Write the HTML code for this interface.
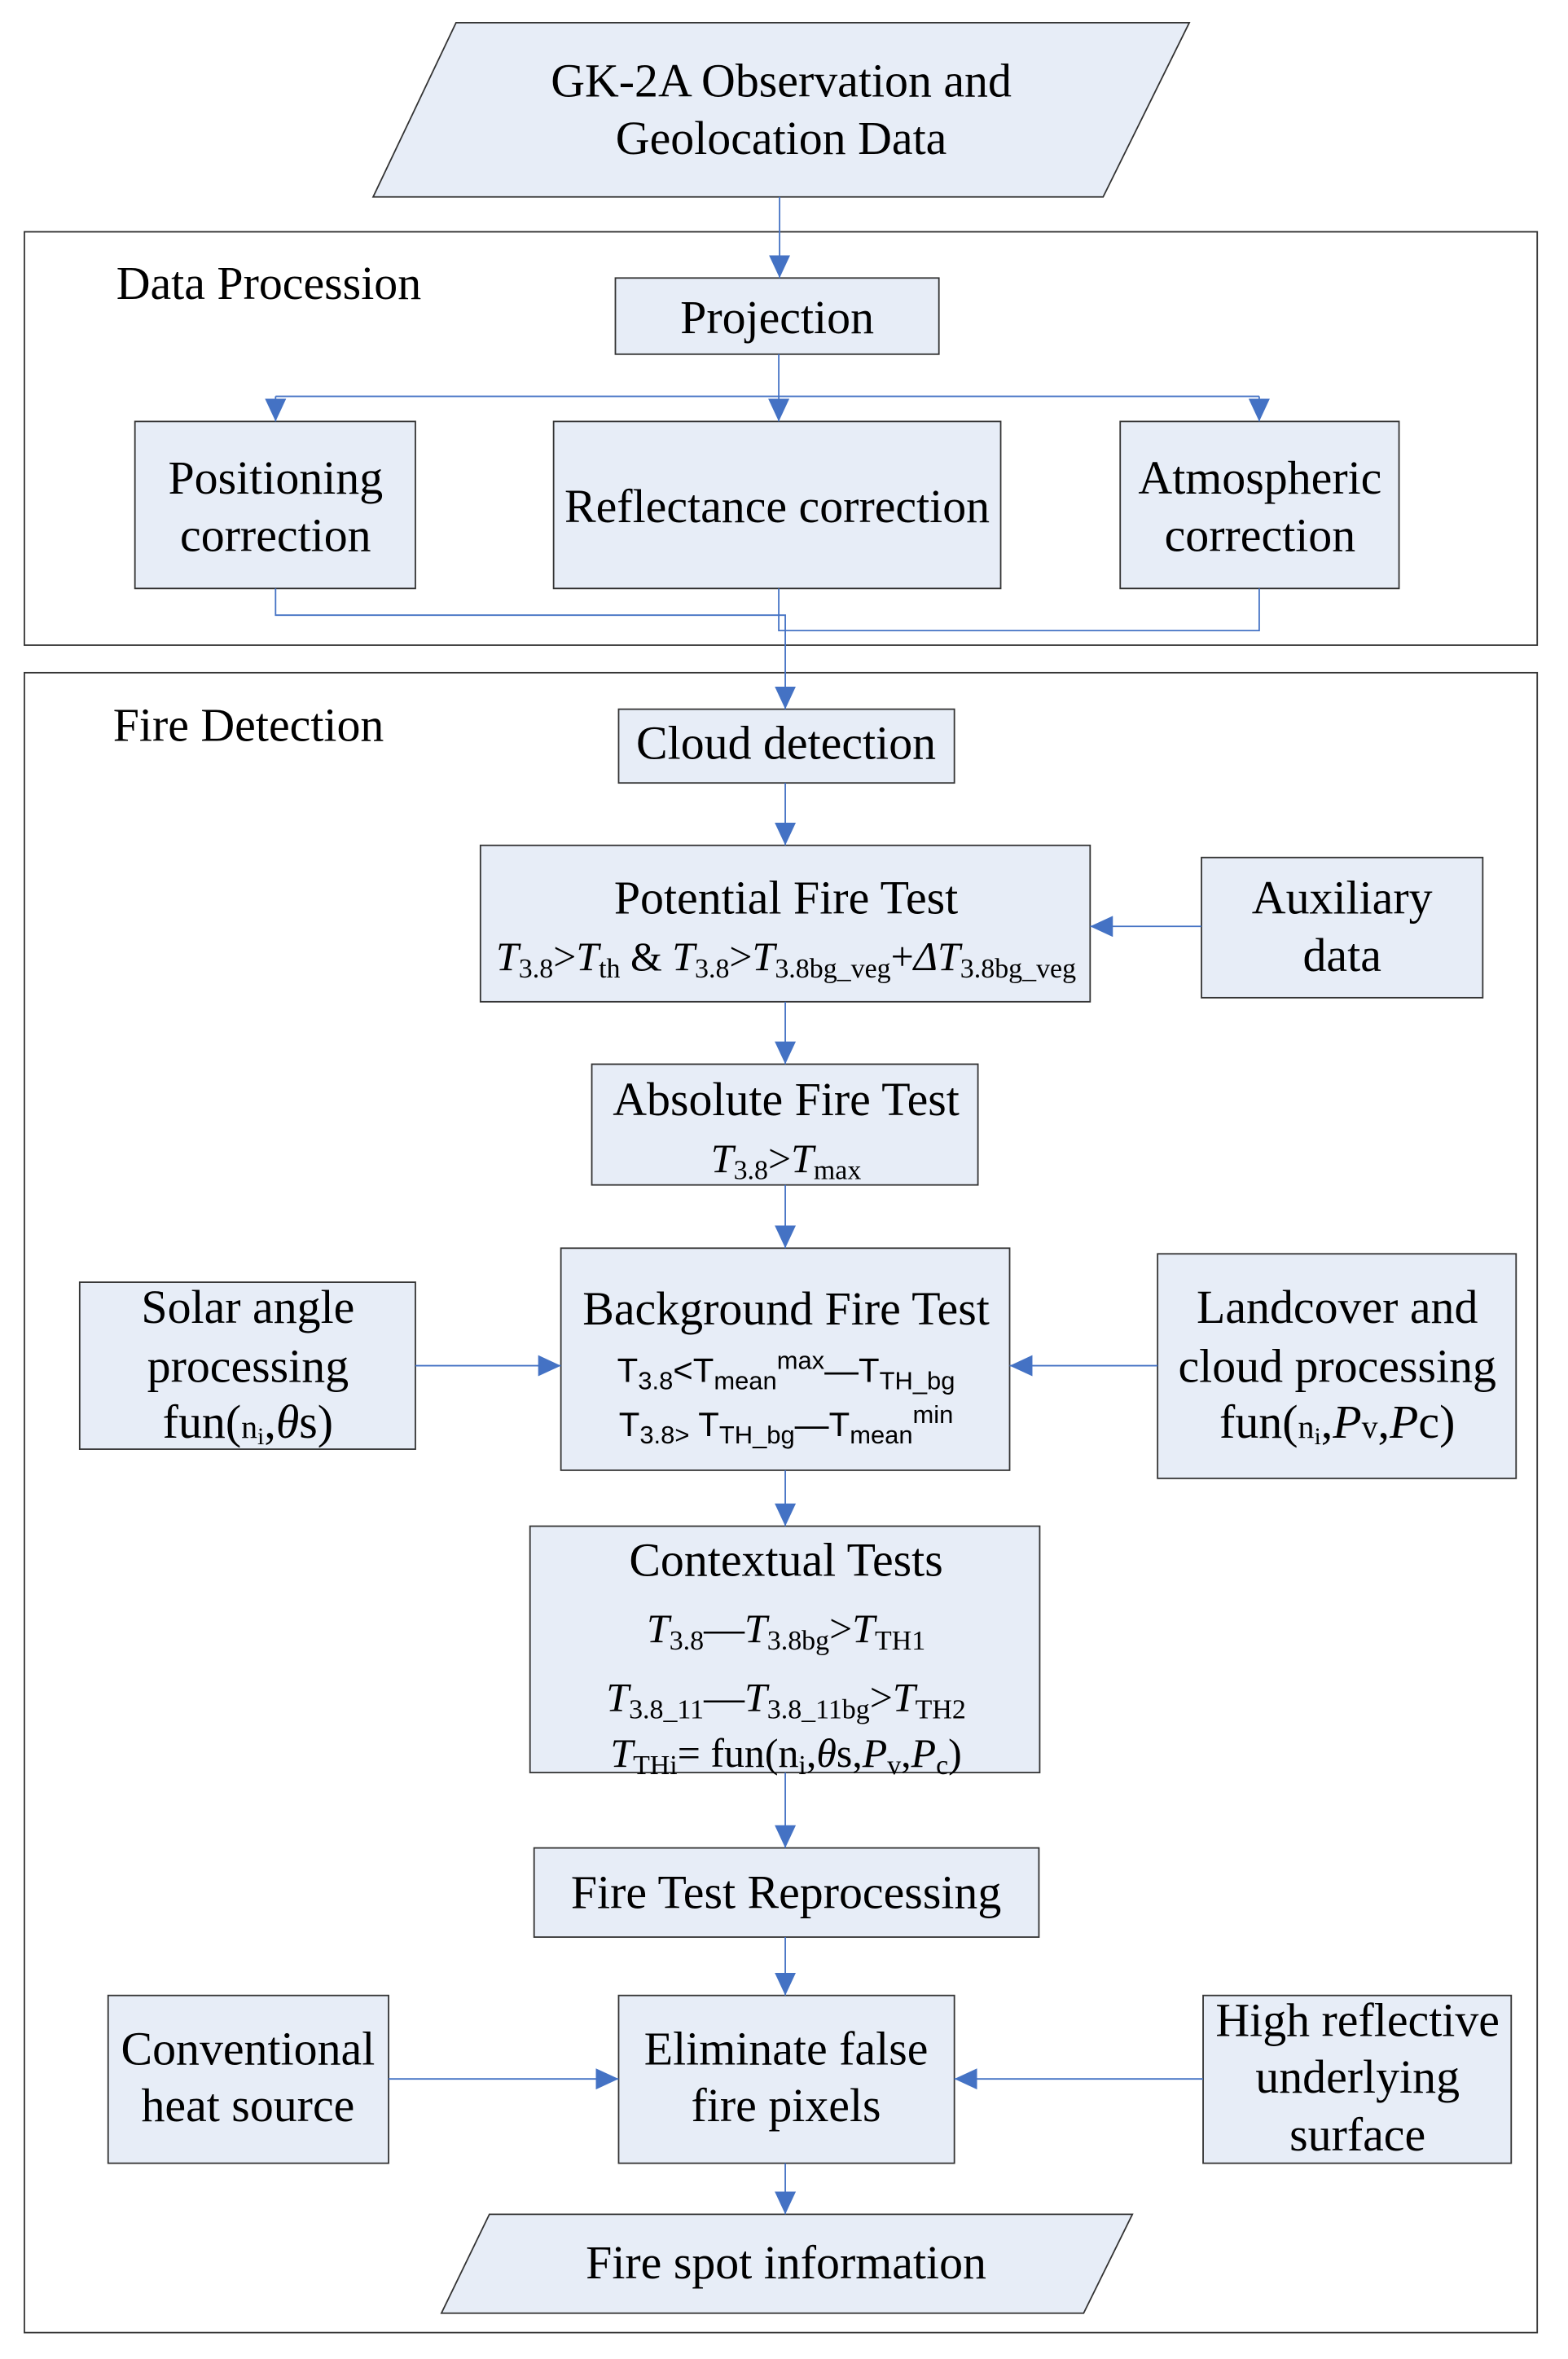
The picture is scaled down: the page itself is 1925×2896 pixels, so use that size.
<!DOCTYPE html>
<html><head><meta charset="utf-8"><style>
html,body{margin:0;padding:0;background:#fff}
svg{display:block}
text{font-family:"Liberation Serif",serif;fill:#000}
.t{font-size:58px}
.f{font-size:50px}
.s{font-family:"Liberation Sans",sans-serif;font-size:42px}
</style></head><body>
<svg width="1925" height="2896" viewBox="0 0 1925 2896" xmlns="http://www.w3.org/2000/svg">
<defs>
<marker id="a" markerUnits="userSpaceOnUse" markerWidth="30" markerHeight="26" refX="28" refY="13" orient="auto">
<path d="M0,0 L28,13 L0,26 Z" fill="#4472C4"/>
</marker>
</defs>
<g transform="scale(0.998 0.995)">
<g fill="#E7EDF7" stroke="#333" stroke-width="1.8">
<polygon points="561,28 1463,28 1357,243 459,243"/>
<rect x="30" y="286" width="1861" height="510" fill="none"/>
<rect x="30" y="830" width="1861" height="2048" fill="none"/>
<rect x="757" y="343" width="398" height="94"/>
<rect x="166" y="520" width="345" height="206"/>
<rect x="681" y="520" width="550" height="206"/>
<rect x="1378" y="520" width="343" height="206"/>
<rect x="761" y="875" width="413" height="91"/>
<rect x="591" y="1043" width="750" height="193"/>
<rect x="1478" y="1058" width="346" height="173"/>
<rect x="728" y="1313" width="475" height="149"/>
<rect x="690" y="1540" width="552" height="274"/>
<rect x="98" y="1582" width="413" height="206"/>
<rect x="1424" y="1547" width="441" height="277"/>
<rect x="652" y="1883" width="627" height="304"/>
<rect x="657" y="2280" width="621" height="110"/>
<rect x="761" y="2462" width="413" height="207"/>
<rect x="133" y="2462" width="345" height="207"/>
<rect x="1480" y="2462" width="379" height="207"/>
<polygon points="602,2732 1393,2732 1333,2854 543,2854"/>
</g>
<g stroke="#4472C4" stroke-width="1.8" fill="none">
<line x1="959" y1="243" x2="959" y2="343" marker-end="url(#a)"/>
<line x1="958" y1="437" x2="958" y2="489"/>
<line x1="339" y1="489" x2="1549" y2="489"/>
<line x1="339" y1="489" x2="339" y2="520" marker-end="url(#a)"/>
<line x1="958" y1="489" x2="958" y2="520" marker-end="url(#a)"/>
<line x1="1549" y1="489" x2="1549" y2="520" marker-end="url(#a)"/>
<polyline points="339,726 339,759 966,759 966,875" marker-end="url(#a)"/>
<polyline points="958,726 958,778 1549,778 1549,726"/>
<line x1="966" y1="966" x2="966" y2="1043" marker-end="url(#a)"/>
<line x1="966" y1="1236" x2="966" y2="1313" marker-end="url(#a)"/>
<line x1="966" y1="1462" x2="966" y2="1540" marker-end="url(#a)"/>
<line x1="966" y1="1814" x2="966" y2="1883" marker-end="url(#a)"/>
<line x1="966" y1="2187" x2="966" y2="2280" marker-end="url(#a)"/>
<line x1="966" y1="2390" x2="966" y2="2462" marker-end="url(#a)"/>
<line x1="966" y1="2669" x2="966" y2="2732" marker-end="url(#a)"/>
<line x1="1478" y1="1143" x2="1341" y2="1143" marker-end="url(#a)"/>
<line x1="511" y1="1685" x2="690" y2="1685" marker-end="url(#a)"/>
<line x1="1424" y1="1685" x2="1242" y2="1685" marker-end="url(#a)"/>
<line x1="478" y1="2565" x2="761" y2="2565" marker-end="url(#a)"/>
<line x1="1480" y1="2565" x2="1174" y2="2565" marker-end="url(#a)"/>
</g>
<g class="t" text-anchor="middle" dominant-baseline="central">
<text x="961" y="100">GK-2A Observation and</text>
<text x="961" y="171">Geolocation Data</text>
<text x="143" y="350" text-anchor="start">Data Procession</text>
<text x="956" y="392">Projection</text>
<text x="339" y="590">Positioning</text>
<text x="339" y="661">correction</text>
<text x="956" y="625">Reflectance correction</text>
<text x="1550" y="590">Atmospheric</text>
<text x="1550" y="661">correction</text>
<text x="139" y="895" text-anchor="start">Fire Detection</text>
<text x="967" y="917">Cloud detection</text>
<text x="967" y="1108">Potential Fire Test</text>
<text x="1651" y="1108">Auxiliary</text>
<text x="1651" y="1179">data</text>
<text x="967" y="1357">Absolute Fire Test</text>
<text x="967" y="1615">Background Fire Test</text>
<text x="305" y="1613">Solar angle</text>
<text x="305" y="1686">processing</text>
<text x="1645" y="1613">Landcover and</text>
<text x="1645" y="1686">cloud processing</text>
<text x="967" y="1925">Contextual Tests</text>
<text x="967" y="2335">Fire Test Reprocessing</text>
<text x="967" y="2528">Eliminate false</text>
<text x="967" y="2598">fire pixels</text>
<text x="305" y="2528">Conventional</text>
<text x="305" y="2598">heat source</text>
<text x="1670" y="2493">High reflective</text>
<text x="1670" y="2563">underlying</text>
<text x="1670" y="2634">surface</text>
<text x="967" y="2792">Fire spot information</text>
</g>
<g text-anchor="middle">
<text class="t" x="305" y="1774">fun(<tspan font-size="40">n</tspan><tspan font-size="30" dy="8">i</tspan><tspan dy="-8">,</tspan><tspan font-style="italic">θ</tspan>s)</text>
<text class="t" x="1645" y="1774">fun(<tspan font-size="40">n</tspan><tspan font-size="30" dy="8">i</tspan><tspan dy="-8">,</tspan><tspan font-style="italic">P</tspan><tspan font-size="40">v</tspan>,<tspan font-style="italic">P</tspan>c)</text>
<text class="f" x="967" y="1197"><tspan font-style="italic">T</tspan><tspan font-size="34" dy="9">3.8</tspan><tspan dy="-9">&gt;</tspan><tspan font-style="italic">T</tspan><tspan font-size="34" dy="9">th</tspan><tspan dy="-9"> &amp; </tspan><tspan font-style="italic">T</tspan><tspan font-size="34" dy="9">3.8</tspan><tspan dy="-9">&gt;</tspan><tspan font-style="italic">T</tspan><tspan font-size="34" dy="9">3.8bg_veg</tspan><tspan dy="-9">+</tspan><tspan font-style="italic">ΔT</tspan><tspan font-size="34" dy="9">3.8bg_veg</tspan></text>
<text class="f" x="967" y="1446"><tspan font-style="italic">T</tspan><tspan font-size="34" dy="9">3.8</tspan><tspan dy="-9">&gt;</tspan><tspan font-style="italic">T</tspan><tspan font-size="34" dy="9">max</tspan></text>
<text class="s" x="967" y="1705">T<tspan font-size="31" dy="9">3.8</tspan><tspan dy="-9">&lt;T</tspan><tspan font-size="31" dy="9">mean</tspan><tspan font-size="31" dy="-25">max</tspan><tspan dy="16">—T</tspan><tspan font-size="31" dy="9">TH_bg</tspan></text>
<text class="s" x="967" y="1772">T<tspan font-size="31" dy="9">3.8&gt;</tspan><tspan dy="-9"> T</tspan><tspan font-size="31" dy="9">TH_bg</tspan><tspan dy="-9">—T</tspan><tspan font-size="31" dy="9">mean</tspan><tspan font-size="31" dy="-25">min</tspan></text>
<text class="f" x="967" y="2026"><tspan font-style="italic">T</tspan><tspan font-size="34" dy="9">3.8</tspan><tspan dy="-9">—</tspan><tspan font-style="italic">T</tspan><tspan font-size="34" dy="9">3.8bg</tspan><tspan dy="-9">&gt;</tspan><tspan font-style="italic">T</tspan><tspan font-size="34" dy="9">TH1</tspan></text>
<text class="f" x="967" y="2111"><tspan font-style="italic">T</tspan><tspan font-size="34" dy="9">3.8_11</tspan><tspan dy="-9">—</tspan><tspan font-style="italic">T</tspan><tspan font-size="34" dy="9">3.8_11bg</tspan><tspan dy="-9">&gt;</tspan><tspan font-style="italic">T</tspan><tspan font-size="34" dy="9">TH2</tspan></text>
<text class="f" x="967" y="2180"><tspan font-style="italic">T</tspan><tspan font-size="34" dy="9">THi</tspan><tspan dy="-9">= fun(n</tspan><tspan font-size="34" dy="9">i</tspan><tspan dy="-9">,</tspan><tspan font-style="italic">θ</tspan>s,<tspan font-style="italic">P</tspan><tspan font-size="34" dy="9">v</tspan><tspan dy="-9">,</tspan><tspan font-style="italic">P</tspan><tspan font-size="34" dy="9">c</tspan><tspan dy="-9">)</tspan></text>
</g>
</g>
</svg>
</body></html>
